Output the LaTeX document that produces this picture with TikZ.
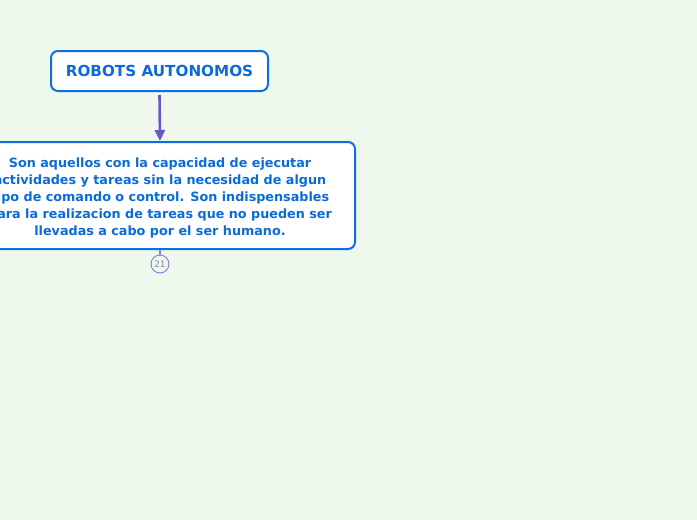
\documentclass[tikz,border=0pt]{standalone}
\usepackage{fontspec}
\setmainfont{DejaVu Sans}
\usetikzlibrary{arrows.meta}
\definecolor{bgc}{HTML}{EEF8EC}
\definecolor{boxblue}{HTML}{0F6FE0}
\definecolor{txtblue}{HTML}{0B6BD8}
\definecolor{arrowp}{HTML}{6A55C6}
\definecolor{circp}{HTML}{8A7ED2}
\definecolor{numgrey}{HTML}{8C8CA8}
\tikzset{
  topicbox/.style={draw=boxblue, line width=2pt, fill=white, rounded corners=7pt, text=txtblue, font=\bfseries, align=center, inner sep=0pt},
  bodytext/.style={text=txtblue, align=center, inner sep=0pt, font=\fontsize{12.75}{17}\selectfont\bfseries},
  link/.style={draw=arrowp, line width=2.6pt, -{Triangle[length=11pt,width=10pt]}},
  badge/.style={circle, draw=circp, line width=0.9pt, fill=bgc, minimum size=18pt, inner sep=0pt, text=numgrey, font=\fontsize{9}{9}\selectfont}
}
\begin{document}
\begin{tikzpicture}[x=1pt,y=-1pt]
\useasboundingbox (0,0) rectangle (697,520);
\clip (0,0) rectangle (697,520);
\fill[bgc] (0,0) rectangle (697,520);
\node[topicbox, minimum width=217pt, minimum height=40pt, font=\fontsize{15.2}{16}\selectfont\bfseries] (title) at (159.5,71) {ROBOTS AUTONOMOS};
\node[topicbox, minimum width=390pt, minimum height=107pt] (desc) at (160,195.5) {};
\node[bodytext] (desctext) at (160,198) {Son aquellos con la capacidad de ejecutar\\actividades y tareas sin la necesidad de algun\\tipo de comando o control. Son indispensables\\para la realizacion de tareas que no pueden ser\\llevadas a cabo por el ser humano.};
\draw[link] ([yshift=-3pt]title.south) -- (desc.north);
\node[badge] (num) at (160,264) {21};
\draw[draw=circp, line width=1.5pt] (desc.south) -- (num.north);
\end{tikzpicture}
\end{document}
